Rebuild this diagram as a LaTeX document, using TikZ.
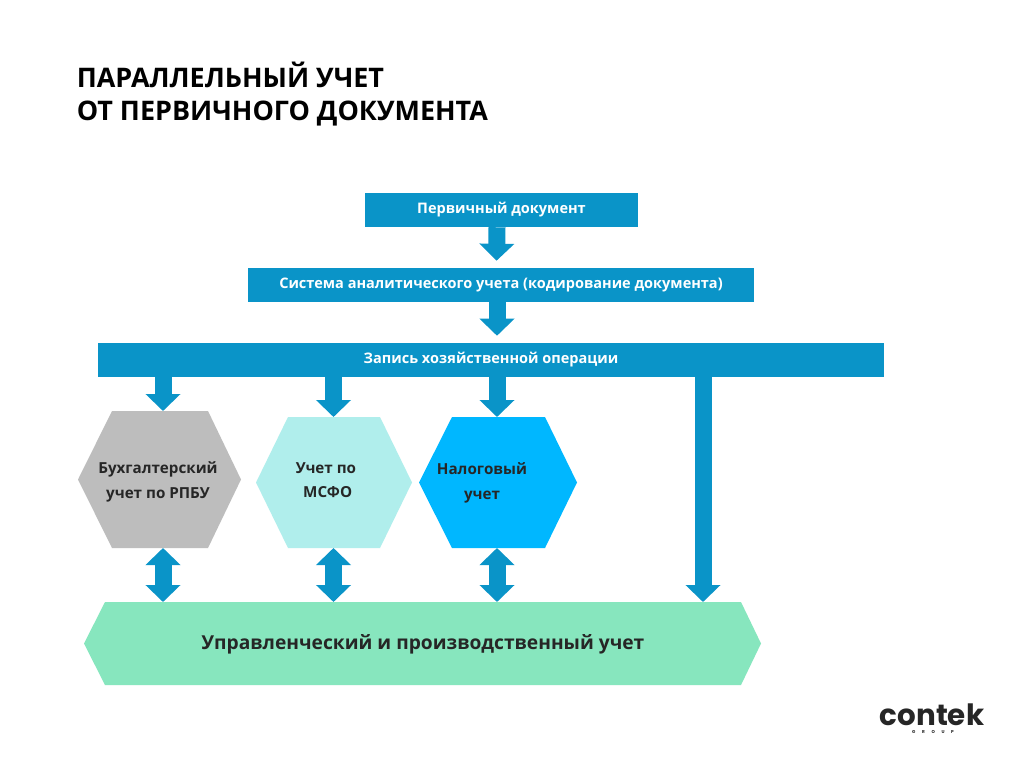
\documentclass[tikz,border=0pt]{standalone}
\usepackage{fontspec}
\setmainfont{Open Sans}
\newfontfamily\logofont{Poppins}
\usetikzlibrary{arrows.meta}
\definecolor{flowblue}{HTML}{0A94C8}
\definecolor{hexgray}{HTML}{BDBDBD}
\definecolor{hexaqua}{HTML}{B0EEEC}
\definecolor{hexsky}{HTML}{00B7FF}
\definecolor{basegreen}{HTML}{87E6BE}
\definecolor{inkdark}{HTML}{262626}
\tikzset{
  bar/.style={fill=flowblue,inner sep=0pt,text=white,font=\bfseries\fontsize{10.9pt}{13pt}\selectfont},
  flow/.style={draw=flowblue,line width=12.75pt,-{Triangle[width=25.5pt,length=12.75pt,fill=flowblue]}},
  flowboth/.style={draw=flowblue,line width=12.75pt,{Triangle[width=25.5pt,length=12.75pt,fill=flowblue]}-{Triangle[width=25.5pt,length=12.75pt,fill=flowblue]}},
  box/.style={inner sep=0pt,outer sep=0pt},
  hexlabel/.style={text=inkdark,font=\bfseries\fontsize{11.4pt}{18.4pt}\selectfont,align=center,inner sep=0pt},
}
\newcommand{\hexbox}[8]{% name, xl, xtl, xtr, xr, yt, yb, colour
  \fill[#8] (#2,{(#6+#7)/2}) -- (#3,#6) -- (#4,#6) -- (#5,{(#6+#7)/2}) -- (#4,#7) -- (#3,#7) -- cycle;
  \path (#2,#6) coordinate (#1nw) (#5,#7) coordinate (#1se);
  \node[box,fit/.try,minimum width={(#5-#2)*0.75pt},minimum height={(#7-#6)*0.75pt}] (#1) at ({(#2+#5)/2},{(#6+#7)/2}) {};
}
\begin{document}
\begin{tikzpicture}[x=0.75pt,y=-0.75pt]
\useasboundingbox (0,0) rectangle (1024,768);
\fill[white] (0,0) rectangle (1024,768);
\node[anchor=west,inner sep=0pt,text=black,font=\bfseries\fontsize{20.2pt}{25pt}\selectfont] (t1) at (76.5,75) {ПАРАЛЛЕЛЬНЫЙ УЧЕТ};
\node[anchor=west,inner sep=0pt,text=black,font=\bfseries\fontsize{20.2pt}{25pt}\selectfont] (t2) at (76.5,114) {ОТ ПЕРВИЧНОГО ДОКУМЕНТА};

\node[bar,minimum width=204.75pt,minimum height=25.5pt] (doc) at (501.5,210) {Первичный документ};
\node[bar,minimum width=379.5pt,minimum height=25.5pt] (sys) at (501,285) {Система аналитического учета (кодирование документа)};
\node[bar,minimum width=589.5pt,minimum height=25.5pt] (rec) at (491,360) {Запись хозяйственной операции};

\hexbox{ha}{78}{112}{208}{241}{411}{548}{hexgray}
\hexbox{hb}{256}{288}{380}{412}{417}{548}{hexaqua}
\hexbox{hc}{419}{452}{545}{577}{417}{548}{hexsky}
\hexbox{mg}{84}{105}{741}{761}{602}{685}{basegreen}

\node[hexlabel] (la) at (158,482) {Бухгалтерский\\учет по РПБУ};
\node[hexlabel,align=left] (lb) at (326,480) {Учет по\\\hspace*{5.5pt}МСФО};
\node[hexlabel] (lc) at (482,483) {Налоговый\\учет};
\node[text=inkdark,font=\bfseries\fontsize{14.4pt}{18pt}\selectfont,inner sep=0pt] (lm) at (423,644) {Управленческий и производственный учет};

\draw[flow] (doc.south -| 497,0) -- ([xshift=-3.375pt,yshift=5.25pt]sys.north);
\draw[flow] (sys.south -| 497,0) -- ([xshift=-3pt,yshift=5.25pt]rec.north -| 501,0);
\draw[flow] (rec.south -| 163,0) -- (ha.north -| 163,0);
\draw[flow] (rec.south -| 333.5,0) -- (hb.north -| 333.5,0);
\draw[flow] (rec.south -| 497,0) -- (hc.north -| 497,0);
\draw[flow] (rec.south -| 703,0) -- (mg.north -| 703,0);
\draw[flowboth] (ha.south -| 163,0) -- (mg.north -| 163,0);
\draw[flowboth] (hb.south -| 333.5,0) -- (mg.north -| 333.5,0);
\draw[flowboth] (hc.south -| 497,0) -- (mg.north -| 497,0);

\node[inner sep=0pt,text=inkdark,font=\logofont\bfseries\fontsize{22pt}{24pt}\selectfont] (logo) at (932,715) {contek};
\node[inner sep=0pt,text=inkdark,font=\logofont\bfseries\fontsize{3.2pt}{4pt}\selectfont] (group) at (933,732) {G\hspace{5pt}R\hspace{5pt}O\hspace{5pt}U\hspace{5pt}P};
\end{tikzpicture}
\end{document}
